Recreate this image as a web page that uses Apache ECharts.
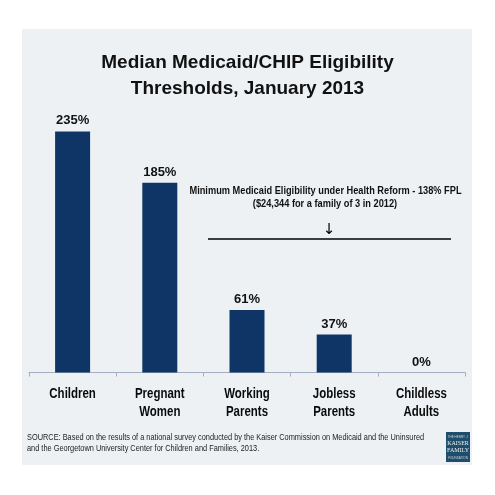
<!DOCTYPE html>
<html>
<head>
<meta charset="utf-8">
<script src="https://cdn.jsdelivr.net/npm/echarts@6/dist/echarts.min.js"></script>
<style>html,body{margin:0;padding:0;background:#fff;}#c{width:495px;height:495px;}</style>
</head>
<body>
<div id="c"></div>
<script>
const categories = ['Children', 'Pregnant\nWomen', 'Working\nParents', 'Jobless\nParents', 'Childless\nAdults'];
const values = [235, 185, 61, 37, 0];
const refLineValue = 130;
const titleText = 'Median Medicaid/CHIP Eligibility\nThresholds, January 2013';
const noteLine1 = 'Minimum Medicaid Eligibility under Health Reform - 138% FPL';
const noteLine2 = '($24,344 for a family of 3 in 2012)';
const sourceText = 'SOURCE: Based on the results of a national survey conducted by the Kaiser Commission on Medicaid and the Uninsured\nand the Georgetown University Center for Children and Families, 2013.';

const chart = echarts.init(document.getElementById('c'), null, {renderer: 'canvas'});
const sans = '"Liberation Sans", Arial, sans-serif';

chart.setOption({
  backgroundColor: '#ffffff',
  animation: false,
  title: {
    text: titleText,
    left: 'center',
    top: 45,
    textStyle: {fontFamily: sans, fontWeight: 'bold', fontSize: 19, lineHeight: 26, color: '#111'}
  },
  grid: {left: 29, right: 30, top: 116, bottom: 122.5},
  xAxis: {
    type: 'category',
    data: categories,
    axisLine: {lineStyle: {color: '#a3aec0', width: 1}},
    axisTick: {show: true, length: 4, lineStyle: {color: '#a3aec0'}},
    axisLabel: {show: false}
  },
  yAxis: {type: 'value', min: 0, max: 250, show: false, splitLine: {show: false}},
  series: [{
    type: 'bar',
    data: values,
    barWidth: 35,
    itemStyle: {color: '#0e3566'},
    label: {
      show: true, position: 'top', distance: 4,
      formatter: p => p.value + '%',
      fontFamily: sans, fontWeight: 'bold', fontSize: 13, color: '#111'
    },
    z: 3
  }]
});

const refY = chart.convertToPixel({yAxisIndex: 0}, refLineValue);
const axisY = chart.convertToPixel({yAxisIndex: 0}, 0);

const catLabels = categories.map((c, i) => ({
  type: 'text', z: 5,
  x: chart.convertToPixel({xAxisIndex: 0}, i),
  y: axisY + 12.5,
  scaleX: 0.74,
  style: {text: c, fill: '#0a0a0a', font: 'bold 15.5px ' + sans, lineHeight: 17.5, align: 'center', verticalAlign: 'top'}
}));

chart.setOption({
  graphic: [
    {type: 'rect', z: -10, silent: true, shape: {x: 22, y: 29, width: 450, height: 436}, style: {fill: '#eef1f4'}},
    {type: 'line', z: 5, shape: {x1: 208, y1: refY, x2: 451, y2: refY}, style: {stroke: '#000', lineWidth: 1.5}},
    {type: 'text', z: 5, x: 329, y: refY - 1.5, style: {text: '↓', fill: '#000', font: '15px "DejaVu Sans"', align: 'center', verticalAlign: 'bottom'}},
    {type: 'text', z: 5, x: 325.5, y: 191, scaleX: 0.84, style: {text: noteLine1, fill: '#111', font: 'bold 11px ' + sans, align: 'center', verticalAlign: 'middle'}},
    {type: 'text', z: 5, x: 325, y: 204, scaleX: 0.84, style: {text: noteLine2, fill: '#111', font: 'bold 11px ' + sans, align: 'center', verticalAlign: 'middle'}},
    {type: 'text', z: 5, x: 27, y: 443, scaleX: 0.82, style: {text: sourceText, fill: '#222', font: '9px ' + sans, lineHeight: 11.5, align: 'left', verticalAlign: 'middle'}},
    {type: 'rect', z: 5, shape: {x: 446, y: 432, width: 24, height: 30}, style: {fill: '#1f4d6b'}},
    {type: 'text', z: 6, x: 458, y: 437, style: {text: 'THE HENRY J.', fill: '#c9d6e0', font: '3px ' + sans, align: 'center', verticalAlign: 'middle'}},
    {type: 'text', z: 6, x: 458, y: 447, style: {text: 'KAISER\nFAMILY', fill: '#e8eef3', font: '6px "Liberation Serif", serif', lineHeight: 7, align: 'center', verticalAlign: 'middle'}},
    {type: 'text', z: 6, x: 458, y: 458, style: {text: 'FOUNDATION', fill: '#c9d6e0', font: '3px ' + sans, align: 'center', verticalAlign: 'middle'}}
  ].concat(catLabels)
});
</script>
</body>
</html>
